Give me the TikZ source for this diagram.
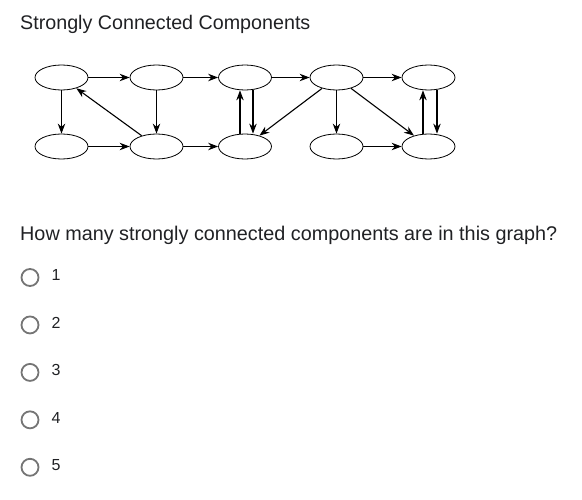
\documentclass[tikz,border=0pt]{standalone}
\usepackage{fontspec}
\setmainfont{Liberation Sans}
\usetikzlibrary{arrows.meta, shapes.geometric}
\definecolor{inkgray}{RGB}{32,33,36}
\definecolor{radiogray}{RGB}{117,117,117}

\begin{document}
\begin{tikzpicture}[
  x = 1pt, y = -1pt,
  > = {Stealth[length=10pt, width=7.5pt]},
  vertex/.style = {ellipse, draw, line width=0.8pt, minimum width=53pt, minimum height=25pt, inner sep=0pt},
  edge line/.style = {->, line width=1.1pt},
  radio/.style = {circle, draw=radiogray, line width=1.8pt, minimum size=17pt, inner sep=0pt},
  plain text/.style = {anchor=base west, inner sep=0pt, text=inkgray}
]
  \useasboundingbox (0,0) rectangle (582,500);

  \node[plain text, font=\fontsize{19.7}{22}\selectfont] (title) at (20,29.5) {Strongly Connected Components};

  % top row and bottom row of the graph
  \foreach \i/\x in {1/61.5, 2/156.5, 3/245, 4/336.5, 5/428.5} {
    \node[vertex] (a\i) at (\x,77.5) {};
    \node[vertex] (b\i) at (\x,146.5) {};
  }

  \draw[edge line] (a1) -- (a2);
  \draw[edge line] (a2) -- (a3);
  \draw[edge line] (a3) -- (a4);
  \draw[edge line] (a4) -- (a5);
  \draw[edge line] (b1) -- (b2);
  \draw[edge line] (b2) -- (b3);
  \draw[edge line] (b4) -- (b5);

  \draw[edge line] (a1) -- (b1);
  \draw[edge line] (a2) -- (b2);
  \draw[edge line] (b2) -- (a1);
  \draw[edge line] ([xshift=-5pt]b3.north) -- ([xshift=-5pt]a3.south);
  \draw[edge line] ([xshift=8pt]a3.south) -- ([xshift=8pt]b3.north);
  \draw[edge line] (a4) -- (b3);
  \draw[edge line] (a4) -- (b4);
  \draw[edge line] (a4) -- (b5);
  \draw[edge line] ([xshift=-5.5pt]b5.north) -- ([xshift=-5.5pt]a5.south);
  \draw[edge line] ([xshift=8.5pt]a5.south) -- ([xshift=8.5pt]b5.north);

  \node[plain text, font=\fontsize{19.8}{22}\selectfont] (question) at (20,241) {How many strongly connected components are in this graph?};

  % answer choices
  \foreach \n in {1,...,5} {
    \node[radio] (r\n) at (30,{277.5+47.45*(\n-1)}) {};
    \node[plain text, font=\fontsize{16}{18}\selectfont] (l\n) at (51.5,{281+47.45*(\n-1)}) {\n};
  }
\end{tikzpicture}
\end{document}
